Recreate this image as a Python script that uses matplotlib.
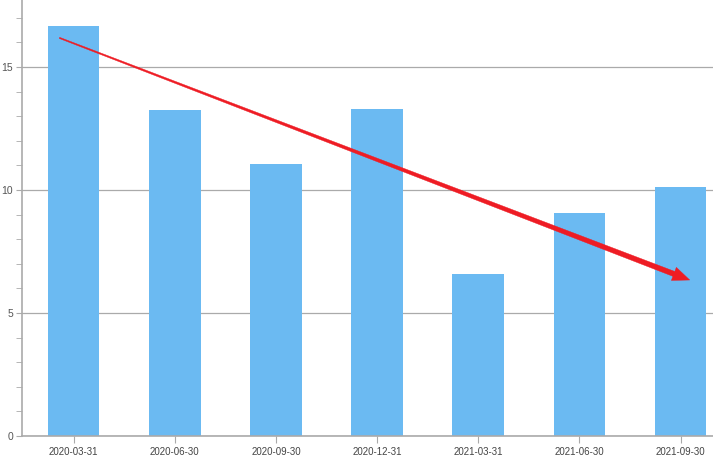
import matplotlib.pyplot as plt
import numpy as np
from matplotlib.patches import Polygon
from matplotlib.ticker import MultipleLocator

quarters = ['2020-03-31', '2020-06-30', '2020-09-30', '2020-12-31',
            '2021-03-31', '2021-06-30', '2021-09-30']
values = [16.67, 13.25, 11.06, 13.29, 6.59, 9.07, 10.12]

# trend arrow, from/to in data coords
arrow_start = (-0.14, 16.18)
arrow_end = (6.09, 6.34)

plt.rcParams['font.family'] = ['Liberation Sans', 'DejaVu Sans']

fig = plt.figure(figsize=(7.13, 4.62), dpi=100)
ax = fig.add_axes([22 / 713, (462 - 436) / 462, 691 / 713, 436 / 462])

x = np.arange(len(quarters))
ax.bar(x, values, width=0.51, color='#6bbaf2', zorder=2)

ax.set_xlim(-0.51, 6.32)
ax.set_ylim(0, 17.72)
ax.set_xticks(x)
ax.set_xticklabels(quarters)
ax.yaxis.set_major_locator(MultipleLocator(5))
ax.yaxis.set_minor_locator(MultipleLocator(1))
ax.grid(axis='y', which='major', color='#aaaaaa', linewidth=0.9, zorder=1)

for s in ['top', 'right']:
    ax.spines[s].set_visible(False)
for s in ['left', 'bottom']:
    ax.spines[s].set_color('#aaaaaa')
    ax.spines[s].set_linewidth(1.2)

ax.tick_params(axis='y', which='major', length=4, color='#aaaaaa', labelsize=7.5,
               labelcolor='#555555', pad=2.5)
ax.tick_params(axis='y', which='minor', length=4, color='#aaaaaa')
ax.tick_params(axis='x', length=5, color='#aaaaaa', labelsize=7, labelcolor='#444444', pad=3)

# tapered arrow drawn in pixel space
fig.canvas.draw()
p0 = ax.transData.transform(arrow_start)
p1 = ax.transData.transform(arrow_end)
d = p1 - p0
L = np.hypot(*d)
u = d / L
n = np.array([-u[1], u[0]])
head_len = 17
head_w = 7
w0, w1 = 0.6, 2.6
base = p1 - u * head_len
pts = [p0 + n * w0, base + n * w1, base + n * head_w, p1,
       base - n * head_w, base - n * w1, p0 - n * w0]
ax.add_patch(Polygon(pts, closed=True, transform=None, facecolor='#ee1c24',
                     edgecolor='#ee1c24', linewidth=0.3, zorder=3))

fig.savefig('out.png', dpi=100)
